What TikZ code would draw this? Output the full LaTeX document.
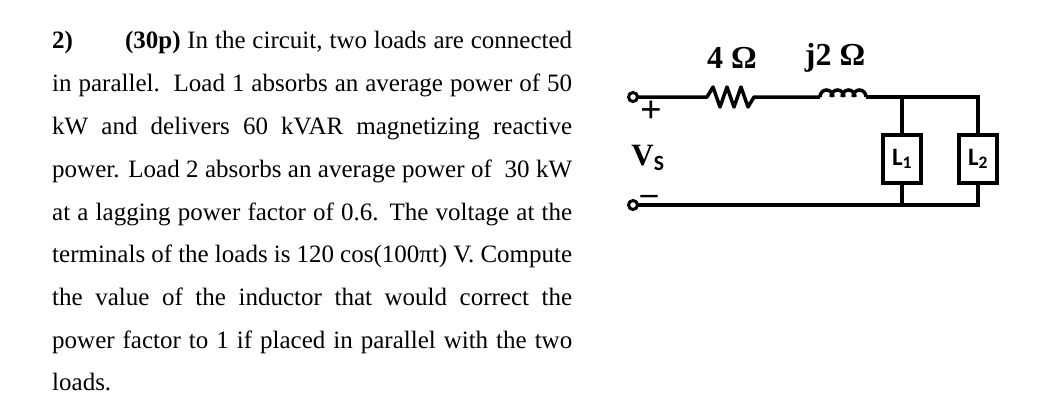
\documentclass[tikz,border=0pt]{standalone}
\usepackage{fontspec}
\setmainfont{Liberation Serif}
\newfontfamily\carl{Carlito}
\usetikzlibrary{calc}
\begin{document}
\begin{tikzpicture}[x=1pt,y=-1pt,
  ln/.style={anchor=base west,inner sep=0pt,font=\fontsize{25}{28}\selectfont},
  wire/.style={line width=3.5pt},
  load/.style={draw,line width=3.5pt,minimum width=38pt,minimum height=48pt,inner sep=0pt,fill=white,font=\carl\bfseries\fontsize{25}{26}\selectfont}]
\useasboundingbox (0,0) rectangle (1052,410);
\newcommand\jl[1]{\makebox[520pt][s]{#1}}
\node[ln] (t1) at (52,48) {\jl{\textbf{2)}\hspace{52pt}\textbf{(30p)} In the circuit, two loads are connected}};
\node[ln] (t2) at (52,91) {\jl{in parallel.\ \ Load 1 absorbs an average power of 50}};
\node[ln] (t3) at (52,134) {\jl{kW and delivers 60 kVAR magnetizing reactive}};
\node[ln] (t4) at (52,177) {\jl{power. Load 2 absorbs an average power of \ 30 kW}};
\node[ln] (t5) at (52,220) {\jl{at a lagging power factor of 0.6. The voltage at the}};
\node[ln] (t6) at (52,262) {\jl{terminals of the loads is 120 cos(100πt) V. Compute}};
\node[ln] (t7) at (52,305) {\jl{the value of the inductor that would correct the}};
\node[ln] (t8) at (52,348) {\jl{power factor to 1 if placed in parallel with the two}};
\node[ln] (t9) at (52,390) {loads.};
% circuit
\coordinate (tp) at (633,97);
\coordinate (tm) at (633,205);
\coordinate (r1) at (707,97);
\coordinate (r2) at (762,97);
\coordinate (i1) at (820,97);
\coordinate (i2) at (872,97);
\coordinate (j1) at (902,97);
\coordinate (j2) at (978,97);
\coordinate (b1) at (902,205);
\coordinate (b2) at (978,205);
\draw[wire,line join=round] (tp) -- (r1) -- ++(6,-10) -- ++(7,20) -- ++(7,-20) -- ++(7,20) -- ++(7,-20) -- ++(7,20) -- ++(6,-10) -- (i1);
\foreach \k in {0,1,2,3}{\draw[wire] ($(i1)+(\k*11,0)$) arc[start angle=180,end angle=360,x radius=6.5,y radius=7];}
\draw[wire] ($(i1)+(46,0)$) -- (i2) -- (j1) -- (j2) -- (b2) -- (b1) -- (tm);
\draw[wire] (j1) -- (b1);
\node[load] (L1) at (902,159) {L\textsubscript{1}};
\node[load] (L2) at (978,159) {L\textsubscript{2}};
\draw[line width=3pt,fill=white] (tp) circle[radius=4.5];
\draw[line width=3pt,fill=white] (tm) circle[radius=4.5];
\node[font=\bfseries\fontsize{38}{40}\selectfont] (pl) at (651,112) {+};
\node[font=\bfseries\fontsize{34}{36}\selectfont] (mi) at (649,200) {\textendash};
\node[font=\bfseries\fontsize{31}{34}\selectfont] (vs) at (648,158) {V\textsubscript{\carl S}};
\node[font=\bfseries\fontsize{32}{34}\selectfont] (lr) at (732,58) {4 Ω};
\node[font=\bfseries\fontsize{32}{34}\selectfont] (li) at (835,58) {j2 Ω};
\end{tikzpicture}
\end{document}
